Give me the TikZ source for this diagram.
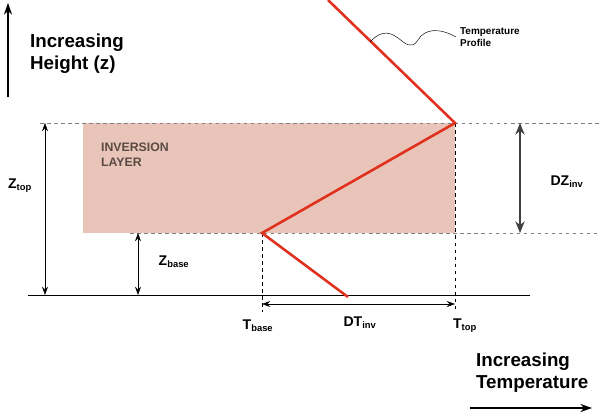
\documentclass[tikz,border=0pt]{standalone}
\usepackage{fontspec}
\setmainfont{Liberation Sans}
\usetikzlibrary{arrows.meta}
\definecolor{band}{HTML}{E9C5B9}
\definecolor{prof}{HTML}{E0301E}
\definecolor{lbl}{HTML}{5A4A44}
\begin{document}
\begin{tikzpicture}[x=0.03cm,y=-0.03cm,
  lab/.style={font=\bfseries\fontsize{12}{14}\selectfont},
  big/.style={font=\bfseries\fontsize{16}{19}\selectfont,align=left},
  dim/.style={thin,{Stealth[length=7pt,width=5pt]}-{Stealth[length=7pt,width=5pt]}},
  dsh/.style={dashed,thin}]
\useasboundingbox (0,0) rectangle (600,416);
\fill[band] (83,123) rectangle (455,233);
\draw[dsh,gray] (40,123) -- (600,123);
\draw[dsh,gray] (130,233) -- (600,233);
\node[font=\bfseries\fontsize{10.5}{13}\selectfont,text=lbl,align=left,anchor=west] (inv) at (97,155) {INVERSION\\LAYER};
% height arrow
\coordinate (h0) at (8,97); \coordinate (h1) at (8,3);
\draw[line width=1.2pt,-{Stealth[length=10pt,width=7pt]}] (h0) -- (h1);
\node[big,anchor=west] (ht) at (26,54) {Increasing\\Height (z)};
% ground
\coordinate (g0) at (28,295); \coordinate (g1) at (530,295);
\draw[semithick] (g0) -- (g1);
% Ztop
\coordinate (zt0) at (45,123); \coordinate (zt1) at (45,295);
\draw[dim] (zt0) -- (zt1);
\node[lab] (ztop) at (20,186) {Z\textsubscript{top}};
\coordinate (zb0) at (138,233); \coordinate (zb1) at (138,295);
\draw[dim] (zb0) -- (zb1);
\node[lab] (zbase) at (174,262) {Z\textsubscript{base}};
% verticals
\coordinate (pb) at (262,233); \coordinate (pt) at (455,123);
\coordinate (vb) at (262,312); \coordinate (vt) at (455,312);
\draw[dsh] (pb) -- (vb);
\draw[dsh] (pt) -- (vt);
\coordinate (d0) at (262,304); \coordinate (d1) at (455,304);
\draw[dim] (d0) -- (d1);
\node[lab] (dt) at (360,323) {DT\textsubscript{inv}};
\node[lab] (tb) at (258,326) {T\textsubscript{base}};
\node[lab] (tt) at (465,326) {T\textsubscript{top}};
% DZ
\coordinate (z0) at (520,123); \coordinate (z1) at (520,233);
\draw[line width=1.3pt,draw=black!75,{Stealth[length=10pt,width=8pt]}-{Stealth[length=10pt,width=8pt]}] (z0) -- (z1);
\node[lab] (dz) at (567,182) {DZ\textsubscript{inv}};
% profile
\coordinate (p0) at (348,297); \coordinate (p3) at (328,0);
\draw[prof,line width=2.2pt] (p0) -- (pb) -- (pt) -- (p3);
% label
\node[font=\bfseries\fontsize{8.5}{10.5}\selectfont,align=left,anchor=west] (tp) at (456,37) {Temperature\\Profile};
\coordinate (s0) at (370,42);
\draw (s0) .. controls (395,15) and (405,60) .. (418,40) .. controls (425,28) and (440,28) .. (tp.west);
% temperature arrow
\node[big,anchor=west] (it) at (472,373) {Increasing\\Temperature};
\coordinate (a0) at (470,408); \coordinate (a1) at (592,408);
\draw[line width=1.2pt,-{Stealth[length=10pt,width=7pt]}] (a0) -- (a1);
\end{tikzpicture}
\end{document}
